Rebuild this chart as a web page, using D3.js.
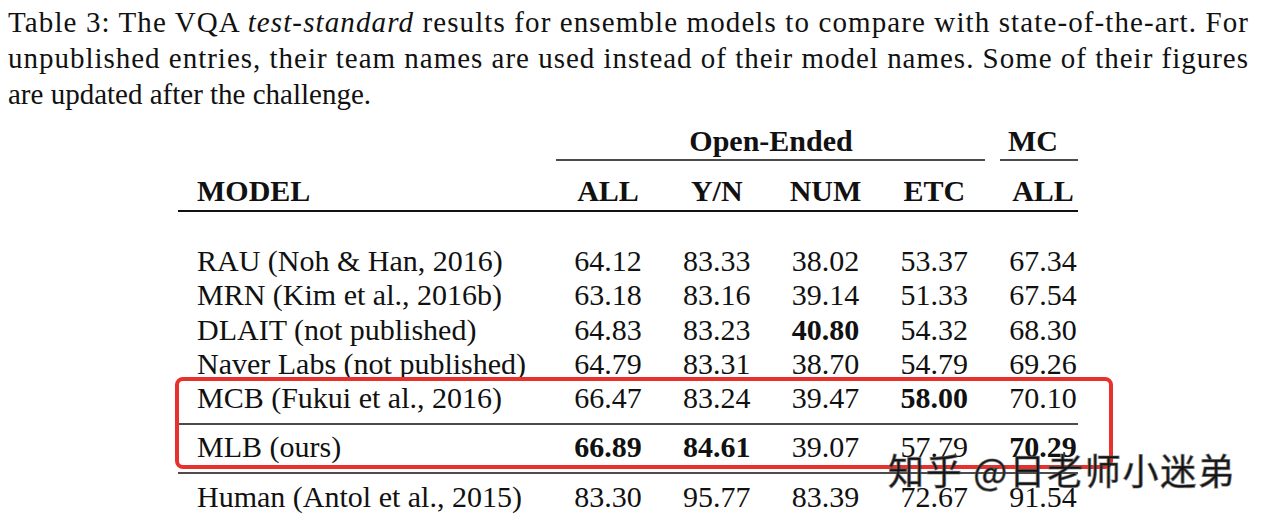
<!DOCTYPE html>
<html>
<head>
<meta charset="utf-8">
<script src="https://cdn.jsdelivr.net/npm/d3@7"></script>
<style>
  body { margin: 0; background: #fff; }
  svg text { font-family: "Liberation Serif", "Times New Roman", serif; fill: #111; }
</style>
</head>
<body>
<script>
const width = 1268
const height = 526

const caption = [
  [['Table 3: The VQA ', 0], ['test-standard', 1], [' results for ensemble models to compare with state-of-the-art.  For', 0]],
  [['unpublished entries, their team names are used instead of their model names.  Some of their figures', 0]],
  [['are updated after the challenge.', 0]]
]

const columns = ['ALL', 'Y/N', 'NUM', 'ETC', 'ALL']
const models = ['RAU (Noh & Han, 2016)', 'MRN (Kim et al., 2016b)', 'DLAIT (not published)',
  'Naver Labs (not published)', 'MCB (Fukui et al., 2016)', 'MLB (ours)', 'Human (Antol et al., 2015)']
const allVals = ['64.12', '63.18', '64.83', '64.79', '66.47', '66.89', '83.30']
const ynVals = ['83.33', '83.16', '83.23', '83.31', '83.24', '84.61', '95.77']
const numVals = ['38.02', '39.14', '40.80', '38.70', '39.47', '39.07', '83.39']
const etcVals = ['53.37', '51.33', '54.32', '54.79', '58.00', '57.79', '72.67']
const mcVals = ['67.34', '67.54', '68.30', '69.26', '70.10', '70.29', '91.54']
const rowGroup = [0, 0, 0, 0, 0, 1, 2]
// bold cells: [row, col]
const bold = [[2, 2], [4, 3], [5, 0], [5, 1], [5, 4]]

const series = [allVals, ynVals, numVals, etcVals, mcVals]
const fs = 30

let svg = d3.select('body').append('svg')
  .attr('width', width)
  .attr('height', height)

// caption
caption.forEach((line, i) => {
  let t = svg.append('text')
    .attr('x', 8).attr('y', 32 + i * 36)
    .attr('font-size', 29)
    .attr('textLength', i < 2 ? 1240 : null)
  line.forEach(([s, it]) => t.append('tspan').text(s).attr('font-style', it ? 'italic' : null))
})

let x = d3.scalePoint().domain(d3.range(columns.length)).range([608, 1043])
let y = d3.scaleLinear().domain([0, 1]).range([271, 305.25])
let rowY = (i) => y(i) + rowGroup[i] * 15

// header
svg.append('text').attr('x', 771).attr('y', 151).attr('text-anchor', 'middle')
  .attr('font-size', fs).attr('font-weight', 'bold').text('Open-Ended')
svg.append('text').attr('x', 1033).attr('y', 151).attr('text-anchor', 'middle')
  .attr('font-size', fs).attr('font-weight', 'bold').text('MC')
svg.append('text').attr('x', 197).attr('y', 201)
  .attr('font-size', fs).attr('font-weight', 'bold').text('MODEL')
svg.selectAll('.colhead').data(columns).join('text')
  .attr('x', (d, i) => x(i)).attr('y', 201).attr('text-anchor', 'middle')
  .attr('font-size', fs).attr('font-weight', 'bold').text(d => d)

let hline = (x1, x2, yy, w) => svg.append('line')
  .attr('x1', x1).attr('x2', x2).attr('y1', yy).attr('y2', yy)
  .attr('stroke', '#111').attr('stroke-width', w)

hline(556, 985, 160, 1.5)
hline(1000, 1078, 160, 1.5)
hline(178, 1078, 211, 2)
hline(178, 1078, 424, 1.5)
hline(178, 1078, 473, 1.5)

// rows
svg.selectAll('.model').data(models).join('text')
  .attr('x', 197).attr('y', (d, i) => rowY(i))
  .attr('font-size', fs).text(d => d)

series.forEach((vals, c) => {
  svg.selectAll('.c' + c).data(vals).join('text')
    .attr('x', x(c)).attr('y', (d, i) => rowY(i))
    .attr('text-anchor', 'middle').attr('font-size', fs)
    .attr('font-weight', (d, i) => bold.some(b => b[0] === i && b[1] === c) ? 'bold' : null)
    .text(d => d)
})

// highlight box
svg.append('rect').attr('x', 177).attr('y', 379).attr('width', 934).attr('height', 88)
  .attr('rx', 6).attr('fill', 'none').attr('stroke', '#e8302c').attr('stroke-width', 4)

// watermark
svg.append('text').attr('x', 888).attr('y', 485)
  .attr('font-size', 36)
  .attr('fill', 'rgba(255,255,255,0.85)').attr('stroke', 'rgba(90,90,90,0.6)').attr('stroke-width', 1.2)
  .style('font-family', '"Noto Sans CJK SC", sans-serif')
  .attr('textLength', 346)
  .text('知乎 @日老师小迷弟')
</script>
</body>
</html>
